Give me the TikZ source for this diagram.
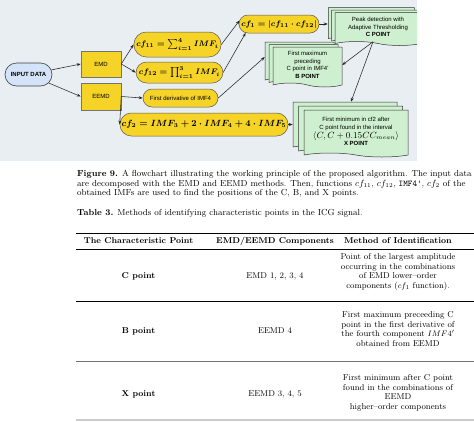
\documentclass[tikz,border=0pt]{standalone}
\usepackage{fontspec}
\newfontfamily\flowfont{Liberation Sans}
\usetikzlibrary{shapes.misc,shapes.symbols,shadows,arrows.meta}
\definecolor{bgcol}{HTML}{E9EEF3}
\definecolor{startcol}{HTML}{D4E3F7}
\definecolor{procol}{HTML}{F5D327}
\definecolor{doccol}{HTML}{CFF0D0}

\begin{document}
\begin{tikzpicture}[x=1pt,y=-1pt,
    startnode/.style={rounded rectangle, draw=black!75, fill=startcol, line width=0.6pt,
      font=\flowfont\bfseries\fontsize{6}{7}\selectfont, minimum width=49pt, minimum height=23pt, inner sep=1pt},
    procbox/.style={draw=black!55, fill=procol, line width=0.5pt,
      font=\flowfont\fontsize{6}{7}\selectfont, minimum width=40pt, minimum height=26pt, inner sep=1pt},
    funcpill/.style={rounded rectangle, draw=black!65, fill=procol, line width=0.5pt, inner sep=1pt},
    docstack/.style={tape, tape bend top=none, tape bend bottom=out and in, tape bend height=4pt,
      draw=black!80, fill=doccol, line width=0.5pt, align=center,
      font=\flowfont\fontsize{6}{7.5}\selectfont, inner sep=1pt},
    link/.style={-{Stealth[length=4pt,width=3pt]}, draw=black!85, line width=0.55pt},
    cell/.style={align=center, font=\fontsize{8.5}{9.5}\selectfont, inner sep=0pt}]

\useasboundingbox (0,0) rectangle (474,421);

% flowchart
\begin{scope}
  \clip (0,0) rectangle (417,161);
  \fill[bgcol] (0,0) rectangle (417,161);

  \node[startnode] (input) at (28.5,74.5) {INPUT DATA};
  \node[procbox] (emd) at (101,64) {EMD};
  \node[procbox, minimum height=27pt] (eemd) at (101,96.5) {EEMD};

  \node[funcpill, minimum width=79pt, minimum height=25pt, font=\fontsize{8.5}{9}\selectfont\boldmath] (cf11) at (177.5,44.5)
    {$cf_{11}=\sum_{i=1}^{4} IMF_i$};
  \node[funcpill, minimum width=75pt, minimum height=21pt, font=\fontsize{8.5}{9}\selectfont\boldmath] (cf12) at (179.5,72.5)
    {$cf_{12}=\prod_{i=1}^{3} IMF_i$};
  \node[funcpill, minimum width=77pt, minimum height=18pt, font=\flowfont\fontsize{6}{7}\selectfont] (deriv) at (180.5,98)
    {First derivative of IMF4};
  \node[funcpill, minimum width=132pt, minimum height=23pt, font=\fontsize{9}{10}\selectfont\boldmath] (cf2) at (204,124.5)
    {$cf_2=IMF_3+2\cdot IMF_4+4\cdot IMF_5$};
  \node[funcpill, minimum width=82pt, minimum height=18pt, font=\fontsize{8}{9}\selectfont\boldmath] (cf1) at (279,24)
    {$cf_1=|cf_{11}\cdot cf_{12}|$};

  \node[docstack, minimum width=86pt, minimum height=33pt,
    double copy shadow={shadow xshift=-3.3pt, shadow yshift=2.5pt, fill=doccol, draw=black!80}] (cpoint) at (378,27)
    {Peak detection with\\Adaptive Thresholding\\\textbf{C POINT}};
  \node[docstack, minimum width=69pt, minimum height=40pt,
    double copy shadow={shadow xshift=-4pt, shadow yshift=2.5pt, fill=doccol, draw=black!80}] (bpoint) at (307.5,65)
    {First maximum\\preceding\\C point in IMF4'\\\textbf{B POINT}};
  \node[docstack, minimum width=104pt, minimum height=47pt,
    double copy shadow={shadow xshift=-5.5pt, shadow yshift=4pt, fill=doccol, draw=black!80}] (xpoint) at (356,131.5)
    {First minimum in cf2 after\\C point found in the interval\\{\rmfamily\fontsize{9}{10}\selectfont$\langle C, C+0.15CC_{mean}\rangle$}\\\textbf{X POINT}};

  \coordinate (btip) at ([shift={(-8,-8)}]bpoint.west);
  \coordinate (ctip) at ([shift={(-7,-3)}]cpoint.west);
  \coordinate (cbot) at ([shift={(-5,0)}]cpoint.south);
  \coordinate (xtop) at ([shift={(-5,-8)}]xpoint.north);
  \coordinate (xtip) at ([shift={(-11,-7)}]xpoint.west);

  \draw[link] (input) -- (emd.west);
  \draw[link] (input) -- (eemd.west);
  \draw[link] (emd.east) -- (cf11.west);
  \draw[link] (emd.east) -- (cf12.west);
  \draw[link] (eemd.east) -- (deriv.west);
  \draw[link] (eemd.east) -- (cf2.west);
  \draw[link] (cf11.east) -- (cf1.175);
  \draw[link] (cf12.east) -- (cf1.195);
  \draw[link] (deriv.east) -- (btip);
  \draw[link] (cf1.east) -- (ctip);
  \draw[link] (cbot) -- (bpoint.east);
  \draw[link] (cbot) -- (xtop);
  \draw[link] (cf2.east) -- (xtip);
\end{scope}

% captions
\node[anchor=north west, align=left, font=\fontsize{8.75}{9.6}\selectfont, inner sep=0pt] (figcap) at (77,170)
  {\textbf{Figure 9.} A flowchart illustrating the working principle of the proposed algorithm. The input data\\
   are decomposed with the EMD and EEMD methods. Then, functions $cf_{11}$, $cf_{12}$, \texttt{IMF4'}, $cf_2$ of the\\
   obtained IMFs are used to find the positions of the C, B, and X points.};
\node[anchor=west, font=\fontsize{8.75}{9.6}\selectfont, inner sep=0pt] (tabcap) at (77,213)
  {\textbf{Table 3.} Methods of identifying characteristic points in the ICG signal.};

% table
\draw[line width=0.8pt] (76,233) -- (474,233);
\draw[line width=0.5pt] (76,249.5) -- (474,249.5);
\draw[line width=0.5pt] (76,301) -- (474,301);
\draw[line width=0.5pt, black!55] (76,361) -- (474,361);
\draw[line width=2.5pt, black!20] (76,420) -- (474,420);

\node[cell, font=\fontsize{8.5}{9.5}\selectfont\bfseries] (hpoint) at (138.5,241) {The Characteristic Point};
\node[cell, font=\fontsize{8.5}{9.5}\selectfont\bfseries] (hcomp) at (275,241) {EMD/EEMD Components};
\node[cell, font=\fontsize{8.5}{9.5}\selectfont\bfseries] (hmeth) at (398,241) {Method of Identification};

\node[cell, font=\fontsize{8.5}{9.5}\selectfont\bfseries] (cpt) at (138.5,276) {C point};
\node[cell] (ccomp) at (275,276) {EMD 1, 2, 3, 4};
\node[cell] (cmeth) at (398,272)
  {Point of the largest amplitude\\occurring in the combinations\\of EMD lower--order\\components ($cf_1$ function).};

\node[cell, font=\fontsize{8.5}{9.5}\selectfont\bfseries] (bpt) at (138.5,331) {B point};
\node[cell] (bcomp) at (275,331) {EEMD 4};
\node[cell] (bmeth) at (398,329)
  {First maximum preceeding C\\point in the first derivative of\\the fourth component $IMF4'$\\obtained from EEMD};

\node[cell, font=\fontsize{8.5}{9.5}\selectfont\bfseries] (xpt) at (138.5,394) {X point};
\node[cell] (xcomp) at (275,394) {EEMD 3, 4, 5};
\node[cell] (xmeth) at (398,393)
  {First minimum after C point\\found in the combinations of\\EEMD\\higher--order components};
\end{tikzpicture}
\end{document}
